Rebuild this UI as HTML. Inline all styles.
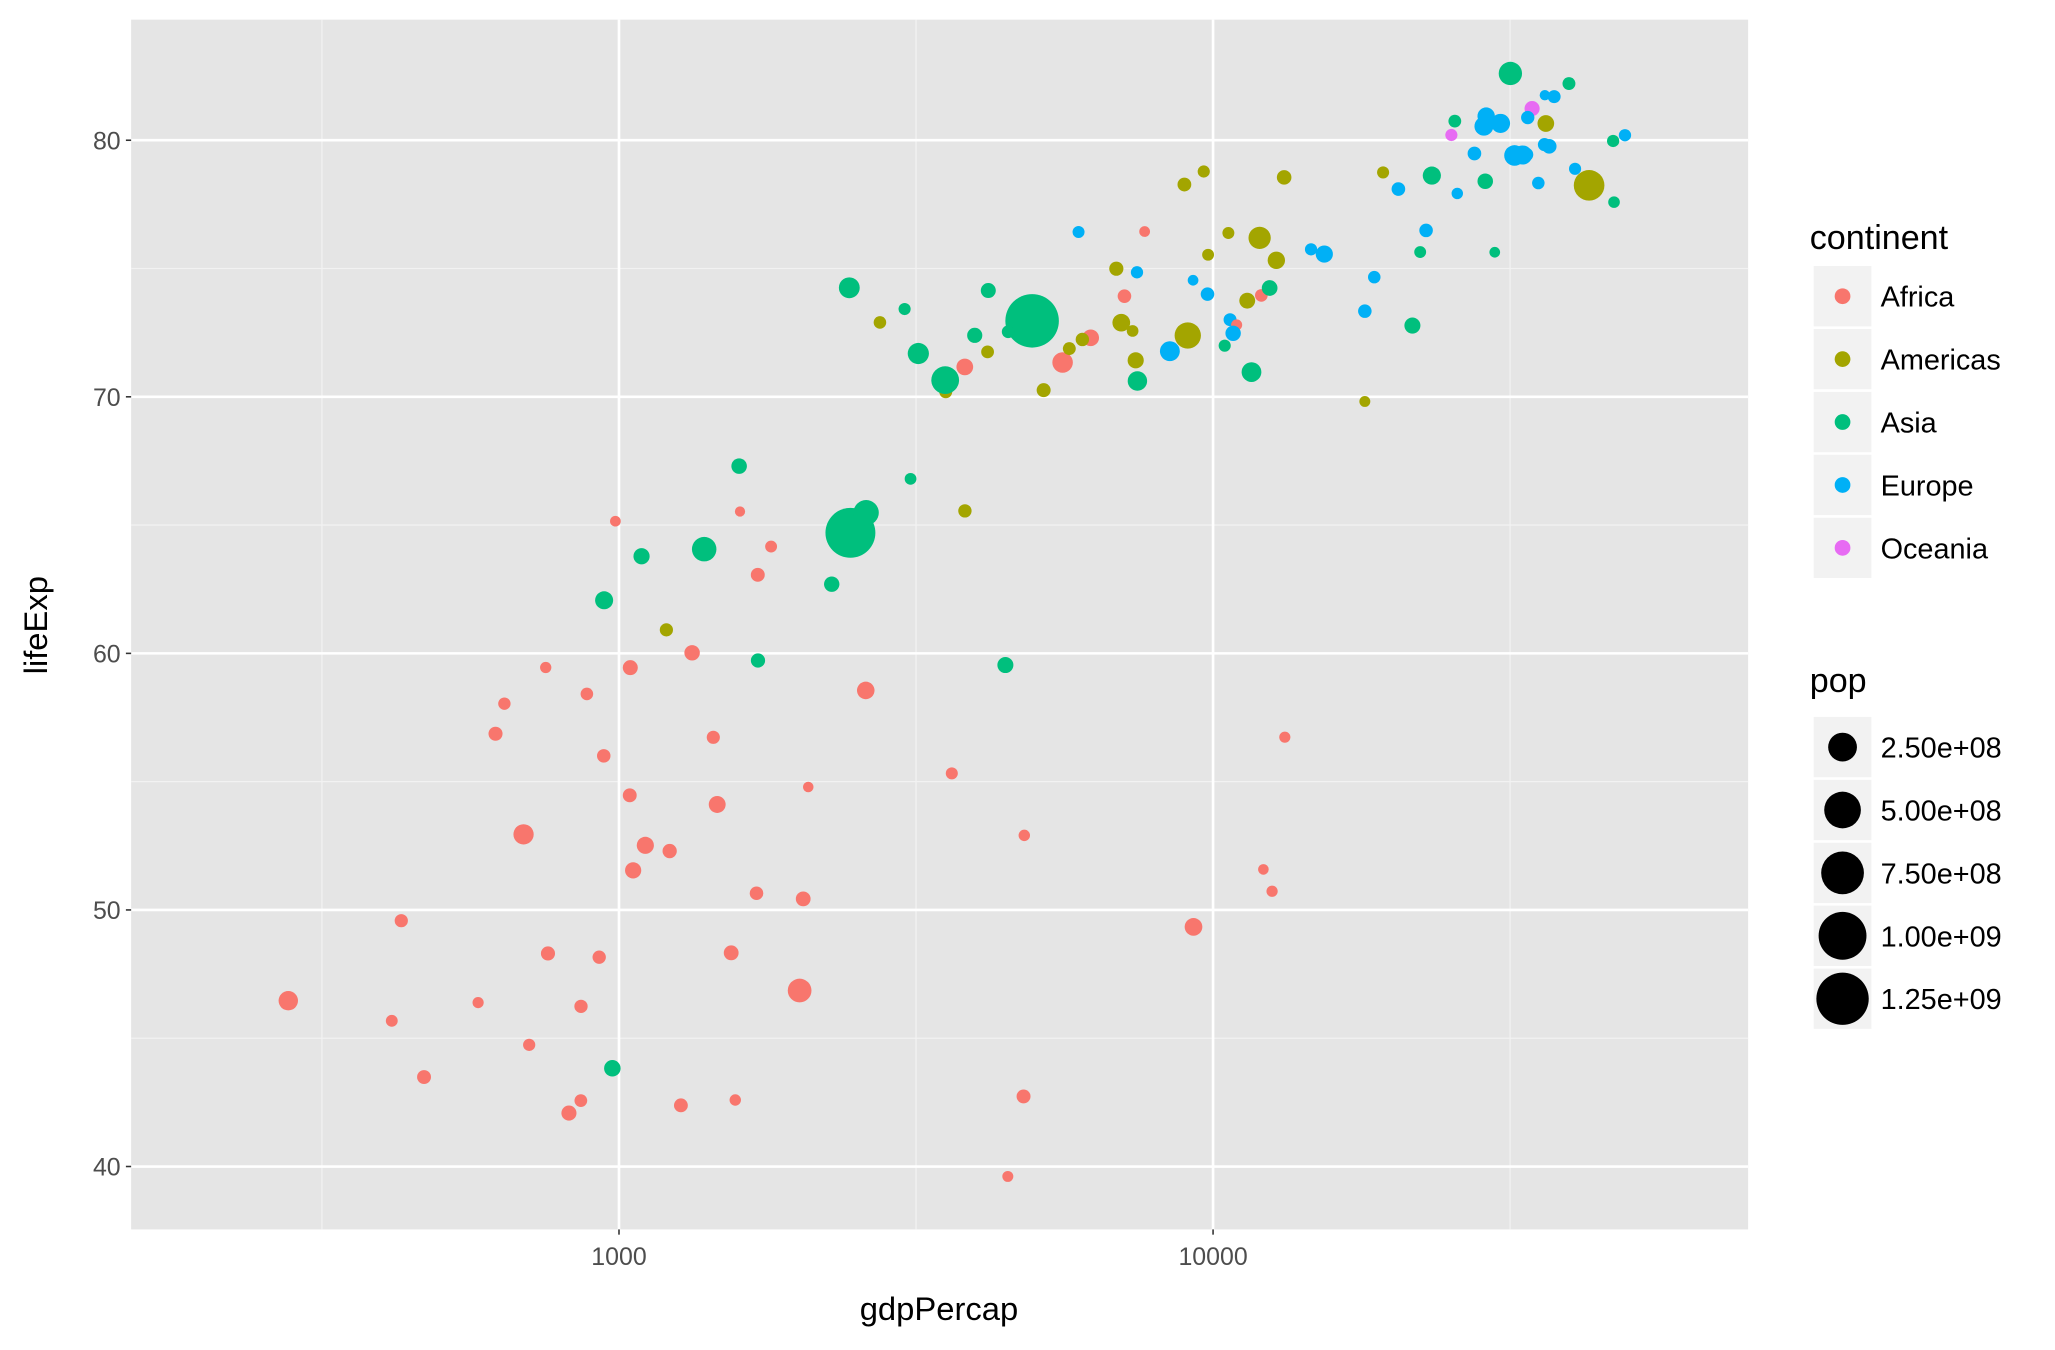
<!DOCTYPE html>
<html><head><meta charset="utf-8"><style>
html,body{margin:0;padding:0;background:#fff;}
svg{display:block;font-family:"Liberation Sans",sans-serif;}
</style></head><body>
<svg id="chart" width="2055" height="1350" viewBox="0 0 1567 1030" preserveAspectRatio="none" xmlns="http://www.w3.org/2000/svg">
<rect x="100" y="15" width="1233" height="923" fill="#e5e5e5"/>
<g id="grid"></g>
<g id="points"></g>
<g id="axes"></g>
<text x="716" y="1007" font-size="25" text-anchor="middle" fill="#000">gdpPercap</text>
<text transform="translate(36,477) rotate(-90)" font-size="25" text-anchor="middle" fill="#000">lifeExp</text>
<g id="legend"></g>
</svg>
<script>
const continents = ["Africa","Americas","Asia","Europe","Oceania"];
const colors = ["#F8766D","#A3A500","#00BF7D","#00B0F6","#E76BF3"];
const xTicks = [1000, 10000];
const xTickLabels = ["1000", "10000"];
const yTicks = [40, 50, 60, 70, 80];
const yTickLabels = ["40", "50", "60", "70", "80"];
const popBreaks = [2.5e8, 5e8, 7.5e8, 1e9, 1.25e9];
const popLabels = ["2.50e+08","5.00e+08","7.50e+08","1.00e+09","1.25e+09"];
const cont = ["Asia","Europe","Africa","Africa","Americas","Oceania","Europe","Asia","Asia","Europe","Africa","Americas","Europe","Africa","Americas","Europe","Africa","Africa","Asia","Africa","Americas","Africa","Africa","Americas","Asia","Americas","Africa","Africa","Africa","Americas","Africa","Europe","Americas","Europe","Europe","Africa","Americas","Americas","Africa","Americas","Africa","Africa","Africa","Europe","Europe","Africa","Africa","Europe","Africa","Europe","Americas","Africa","Africa","Americas","Americas","Asia","Europe","Europe","Asia","Asia","Asia","Asia","Europe","Asia","Europe","Americas","Asia","Asia","Africa","Asia","Asia","Asia","Asia","Africa","Africa","Africa","Africa","Africa","Asia","Africa","Africa","Africa","Americas","Asia","Europe","Africa","Africa","Asia","Africa","Asia","Europe","Oceania","Americas","Africa","Africa","Europe","Asia","Asia","Americas","Americas","Americas","Asia","Europe","Europe","Americas","Africa","Europe","Africa","Africa","Asia","Africa","Europe","Africa","Asia","Europe","Europe","Africa","Africa","Europe","Asia","Africa","Africa","Europe","Europe","Asia","Asia","Africa","Asia","Africa","Americas","Africa","Europe","Africa","Europe","Americas","Americas","Americas","Asia","Asia","Asia","Africa","Africa"];
const lifeExp = [43.828,76.423,72.301,42.731,75.32,81.235,79.829,75.635,64.062,79.441,56.728,65.554,74.852,50.728,72.39,73.005,52.295,49.58,59.723,50.43,80.653,44.741,50.651,78.553,72.961,72.889,65.152,46.462,55.322,78.782,48.328,75.748,78.273,76.486,78.332,54.791,72.235,74.994,71.338,71.878,51.579,58.04,52.947,79.313,80.657,56.735,59.448,79.406,60.022,79.483,70.259,56.007,46.388,60.916,70.198,82.208,73.338,81.757,64.698,70.65,70.964,59.545,78.885,80.745,80.546,72.567,82.603,72.535,54.11,67.297,78.623,77.588,71.993,42.592,45.678,73.952,59.443,48.303,74.241,54.467,64.164,72.801,76.195,66.803,74.543,71.164,42.082,62.069,52.906,63.785,79.762,80.204,72.899,56.867,46.859,80.196,75.64,65.483,75.537,71.752,71.421,71.688,75.563,78.098,78.746,76.442,72.476,46.242,65.528,72.777,63.062,74.002,42.568,79.972,74.663,77.926,48.159,49.339,80.941,72.396,58.556,39.613,80.884,81.701,74.143,78.4,52.517,70.616,58.42,69.819,73.923,71.777,51.542,79.425,78.242,76.384,73.747,74.249,73.422,62.698,42.384,43.487];
const gdpPercap = [974.58,5937.03,6223.37,4797.23,12779.38,34435.37,36126.49,29796.05,1391.25,33692.6,1441.28,3822.14,7446.3,12569.85,9065.8,10680.79,1217.03,430.07,1713.78,2042.1,36319.24,706.02,1704.06,13171.64,4959.11,7006.58,986.15,277.55,3632.56,9645.06,1544.75,14619.22,8948.1,22833.31,35278.42,2082.48,6025.37,6873.26,5581.18,5728.35,12154.09,641.37,690.81,33207.08,30470.02,13206.48,752.75,32170.37,1327.61,27538.41,5186.05,942.65,579.23,1201.64,3548.33,39724.98,18008.94,36180.79,2452.21,3540.65,11605.71,4471.06,40676.0,25523.28,28569.72,7320.88,31656.07,4519.46,1463.25,1593.07,23348.14,47306.99,10461.06,1569.33,414.51,12057.5,1044.77,759.35,12451.66,1042.58,1803.15,10956.99,11977.57,3095.77,9253.9,3820.18,823.69,944.0,4811.06,1091.36,36797.93,25185.01,2749.32,619.68,2013.98,49357.19,22316.19,2605.95,9809.19,4172.84,7408.91,3190.48,15389.92,20509.65,19328.71,7670.12,10808.48,863.09,1598.44,21654.83,1712.47,9786.53,862.54,47143.18,18678.31,25768.26,926.14,9269.66,28821.06,3970.1,2602.39,4513.48,33859.75,37506.42,4184.55,28718.28,1107.48,7458.4,882.97,18008.51,7092.92,8458.28,1056.38,33203.26,42951.65,10611.46,11415.81,2441.58,3025.35,2280.77,1271.21,469.71];
const pop = [31889923,3600523,33333216,12420476,40301927,20434176,8199783,708573,150448339,10392226,8078314,9119152,4552198,1639131,190010647,7322858,14326203,8390505,14131858,17696293,33390141,4369038,10238807,16284741,1318683096,44227550,710960,64606759,3800610,4133884,18013409,4493312,11416987,10228744,5468120,496374,9319622,13755680,80264543,6939688,551201,4906585,76511887,5238460,61083916,1454867,1688359,82400996,22873338,10706290,12572928,9947814,1472041,8502814,7483763,6980412,9956108,301931,1110396331,223547000,69453570,27499638,4109086,6426679,58147733,2780132,127467972,6053193,35610177,23301725,49044790,2505559,3921278,2012649,3193942,6036914,19167654,13327079,24821286,12031795,3270065,1250882,108700891,2874127,684736,33757175,19951656,47761980,2055080,28901790,16570613,4115771,5675356,12894865,135031164,4627926,3204897,169270617,3242173,6667147,28674757,91077287,38518241,10642836,3942491,798094,22276056,8860588,199579,27601038,12267493,10150265,6144562,4553009,5447502,2009245,9118773,43997828,40448191,20378239,42292929,1133066,9031088,7554661,19314747,23174294,38139640,65068149,5701579,1056608,10276158,71158647,29170398,60776238,301139947,3447496,26084662,85262356,4018332,22211743,11746035,12311143];

const NS="http://www.w3.org/2000/svg";
const PX0=100, PX1=1333, PY0=15, PY1=938;
function xs(v){return 472+(Math.log10(v)-3)*453;}
function ys(v){return 890-(v-40)*19.575;}
function rs(p){return 3.7+0.00046*Math.sqrt(p);}
function mk(tag,attrs,parent){const e=document.createElementNS(NS,tag);for(const k in attrs)e.setAttribute(k,attrs[k]);parent.appendChild(e);return e;}
const grid=document.getElementById('grid'), axes=document.getElementById('axes'), pts=document.getElementById('points'), leg=document.getElementById('legend');
for(let i=0;i<yTicks.length+1;i++){const v=35+i*10;const y=ys(v);if(y>PY0&&y<PY1){const l=mk('line',{x1:PX0,x2:PX1,y1:y,y2:y,stroke:'#f2f2f2','stroke-width':1},grid);}}
[2.5,3.5,4.5].forEach(e=>{const x=xs(Math.pow(10,e));if(x>PX0&&x<PX1){const l=mk('line',{x1:x,x2:x,y1:PY0,y2:PY1,stroke:'#f2f2f2','stroke-width':1},grid);}});
yTicks.forEach((v,i)=>{const y=ys(v);
 const l=mk('line',{x1:PX0,x2:PX1,y1:y,y2:y,stroke:'#fff','stroke-width':2},grid);
 const t=mk('line',{x1:PX0-4,x2:PX0,y1:y,y2:y,stroke:'#333','stroke-width':1.2},axes);
 const tx=mk('text',{x:PX0-8,y:y+7,'font-size':19,'text-anchor':'end',fill:'#4d4d4d'},axes);tx.textContent=yTickLabels[i];});
xTicks.forEach((v,i)=>{const x=xs(v);
 const l=mk('line',{x1:x,x2:x,y1:PY0,y2:PY1,stroke:'#fff','stroke-width':2},grid);
 const t=mk('line',{x1:x,x2:x,y1:PY1,y2:PY1+4,stroke:'#333','stroke-width':1.2},axes);
 const tx=mk('text',{x:x,y:PY1+27,'font-size':19,'text-anchor':'middle',fill:'#4d4d4d'},axes);tx.textContent=xTickLabels[i];});
for(let i=0;i<gdpPercap.length;i++){
 const c=mk('circle',{cx:xs(gdpPercap[i]),cy:ys(lifeExp[i]),r:rs(pop[i]),fill:colors[continents.indexOf(cont[i])]},pts);
 
 
}
let t=mk('text',{x:1380,y:190,'font-size':26,fill:'#000'},leg);t.textContent='continent';
continents.forEach((n,i)=>{const cy=226+i*48;
 const k=mk('rect',{x:1383,y:cy-23,width:44,height:46,fill:'#f2f2f2'},leg);
 const c=mk('circle',{cx:1405,cy:cy,r:6,fill:colors[i]},leg);
 const tx=mk('text',{x:1434,y:cy+8,'font-size':22,fill:'#000'},leg);tx.textContent=n;});
t=mk('text',{x:1380,y:528,'font-size':26,fill:'#000'},leg);t.textContent='pop';
popBreaks.forEach((p,i)=>{const cy=570+i*48;
 const k=mk('rect',{x:1383,y:cy-23,width:44,height:46,fill:'#f2f2f2'},leg);
 const c=mk('circle',{cx:1405,cy:cy,r:rs(p),fill:'#000'},leg);
 const tx=mk('text',{x:1434,y:cy+8,'font-size':22,fill:'#000'},leg);tx.textContent=popLabels[i];});
</script>
</body></html>
